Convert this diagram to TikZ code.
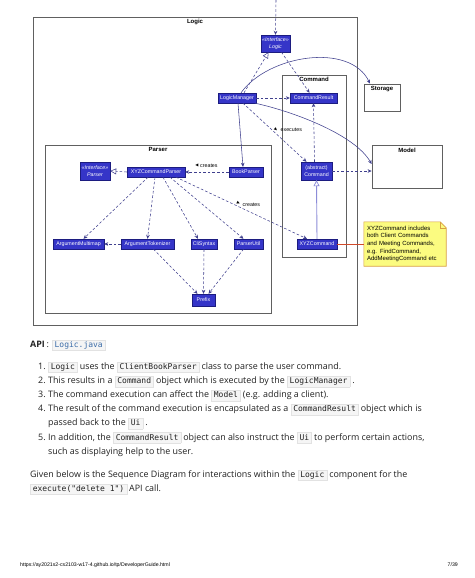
\documentclass[tikz,border=0pt]{standalone}
\usepackage{fontspec}
\setmainfont{Open Sans}
\newfontfamily\dsans{Liberation Sans}
\newfontfamily\mono{DejaVu Sans Mono}
\newfontfamily\dejavu{DejaVu Sans}
\usetikzlibrary{arrows.meta}
\definecolor{clsfill}{HTML}{3535C8}
\definecolor{clsline}{HTML}{1C1C80}
\definecolor{edgec}{HTML}{40408E}
\definecolor{inhc}{HTML}{8C8CD8}
\definecolor{framec}{HTML}{606060}
\definecolor{notefill}{HTML}{FBFB80}
\definecolor{noteline}{HTML}{D9A040}
\definecolor{notelink}{HTML}{D04A2A}
\definecolor{cdbg}{HTML}{F5F5F5}
\definecolor{cdline}{HTML}{E2E2E2}
\definecolor{cdblue}{HTML}{3B6CA8}
\definecolor{bodyc}{HTML}{222222}
\newcommand\cdfont{\mono\fontsize{8}{9}\selectfont}
\newcommand\cd[1]{{\setlength{\fboxsep}{0pt}\setlength{\fboxrule}{0.4pt}\fcolorbox{cdline}{cdbg}{\hspace{2.2pt}\rule[-2.9pt]{0pt}{10.4pt}{\cdfont #1}\hspace{2.2pt}}}}
\newcommand\cdb[1]{{\setlength{\fboxsep}{0pt}\setlength{\fboxrule}{0.4pt}\fcolorbox{cdline}{cdbg}{\hspace{2.2pt}\rule[-2.9pt]{0pt}{10.4pt}{\cdfont\color{cdblue}#1}\hspace{2.2pt}}}}
\pgfdeclarelayer{bg}
\pgfsetlayers{bg,main}
\begin{document}
\begin{tikzpicture}[x=1pt,y=-1pt,
  frame/.style={draw=framec, line width=0.8pt, fill=white, inner sep=0pt},
  ftitle/.style={font=\dsans\bfseries\fontsize{6}{7}\selectfont, inner sep=0pt},
  cls/.style={fill=clsfill, draw=clsline, line width=0.4pt, text=white, inner sep=0pt,
    font=\dsans\fontsize{5.3}{6.3}\selectfont, align=center},
  iface/.style={cls, font=\dsans\itshape\fontsize{5.3}{6.3}\selectfont},
  dep/.style={draw=edgec, line width=0.55pt, dash pattern=on 2.6pt off 2pt, -{Stealth[length=4pt,width=3.6pt]}},
  assoc/.style={draw=edgec, line width=0.55pt, -{Stealth[length=4pt,width=3.6pt]}},
  real/.style={draw=edgec, line width=0.55pt, dash pattern=on 2.6pt off 2pt, -{Triangle[open,length=6pt,width=6pt,line width=0.55pt]}},
  inh/.style={draw=inhc, line width=0.9pt, -{Triangle[open,length=6pt,width=6pt,fill=white,line width=0.7pt]}},
  lbl/.style={font=\dsans\fontsize{5.3}{6.3}\selectfont, inner sep=0pt, text=black},
  tri/.style={font=\dejavu\fontsize{4}{4}\selectfont, inner sep=0pt, text=black},
  body/.style={font=\fontsize{8.9}{10}\selectfont, text=bodyc, inner sep=0pt},
  foot/.style={font=\dsans\fontsize{5.2}{6}\selectfont, text=black, inner sep=0pt}
]
\useasboundingbox (0,0) rectangle (474,578);
\begin{pgfonlayer}{bg}
\fill[white] (0,0) rectangle (474,578);
\end{pgfonlayer}

% frames
\node[frame, minimum width=324, minimum height=308] (logicF) at (195,171) {};
\node[frame, minimum width=226, minimum height=168] (parserF) at (158,229) {};
\node[frame, minimum width=64, minimum height=182] (cmdF) at (314,166) {};
\node[frame, minimum width=36, minimum height=27] (storage) at (382,97.5) {};
\node[frame, minimum width=70, minimum height=43] (model) at (407,166.5) {};
\node[ftitle, anchor=north] (logicT) at ([yshift=-2.5pt]logicF.north) {Logic};
\node[ftitle, anchor=north] (parserT) at ([yshift=-2.5pt]parserF.north) {Parser};
\node[ftitle, anchor=north] (cmdT) at ([yshift=-2.5pt]cmdF.north) {Command};
\node[ftitle, anchor=north] (storT) at ([yshift=-3pt]storage.north) {Storage};
\node[ftitle, anchor=north] (modelT) at ([yshift=-3pt]model.north) {Model};

% classes
\node[iface, minimum width=29, minimum height=17] (ilogic) at (275.5,43.5) {«Interface»\\Logic};
\node[cls, minimum width=38, minimum height=10] (lm) at (237,98) {LogicManager};
\node[cls, minimum width=47, minimum height=10] (cr) at (313.5,98) {CommandResult};
\node[iface, minimum width=30, minimum height=18] (iparser) at (95,171) {«Interface»\\Parser};
\node[cls, minimum width=58, minimum height=10] (xyzp) at (156,172) {XYZCommandParser};
\node[cls, minimum width=34, minimum height=10] (bp) at (246,172) {BookParser};
\node[cls, minimum width=31, minimum height=18] (acmd) at (316.5,171) {(abstract)\\Command};
\node[cls, minimum width=40, minimum height=10] (xyzc) at (317,244) {XYZCommand};
\node[cls, minimum width=51, minimum height=10] (amm) at (78.5,244) {ArgumentMultimap};
\node[cls, minimum width=53, minimum height=10] (atok) at (147.5,244) {ArgumentTokenizer};
\node[cls, minimum width=26, minimum height=10] (cli) at (204,244) {CliSyntax};
\node[cls, minimum width=29, minimum height=10] (pu) at (248.5,244) {ParserUtil};
\node[cls, minimum width=23, minimum height=12] (prefix) at (203.5,300) {Prefix};

% note
\node[lbl, text width=80, align=left, minimum width=82, minimum height=44,
  font=\dsans\fontsize{6}{7.7}\selectfont] (note) at (405,244)
  {\hspace*{2pt}XYZCommand includes\\\hspace*{2pt}both Client Commands\\\hspace*{2pt}and Meeting Commands,\\\hspace*{2pt}e.g. FindCommand,\\\hspace*{2pt}AddMeetingCommand etc};
\begin{pgfonlayer}{bg}
\filldraw[fill=notefill, draw=noteline, line width=0.6pt]
  (note.north west) -- ([xshift=-6pt]note.north east) -- ([yshift=-6pt]note.north east)
  -- (note.south east) -- (note.south west) -- cycle;
\end{pgfonlayer}
\draw[draw=noteline, line width=0.6pt] ([xshift=-6pt]note.north east) |- ([yshift=-6pt]note.north east);

% edges
\coordinate (topin) at (276,0);
\draw[dep] (topin) -- (ilogic.north);
\draw[real] ([xshift=7pt]lm.north) -- ([xshift=-7pt]ilogic.south);
\draw[dep] ([xshift=6pt]ilogic.south) -- ([xshift=-4pt]cr.north);
\draw[dep] (lm.east) -- (cr.west);
\draw[assoc] ([xshift=4pt]lm.north) .. controls (268,55) and (350,42) .. ([xshift=-12pt]storage.north);
\draw[assoc] ([xshift=-1pt]lm.south east) .. controls (295,112) and (355,135) .. ([yshift=2.5pt]model.west);
\draw[assoc] ([xshift=1pt]lm.south) -- ([xshift=-3pt]bp.north);
\draw[dep] ([xshift=6pt]lm.south) -- ([xshift=-10pt]acmd.north);
\draw[dep] ([xshift=-2pt]acmd.north) -- (cr.south);
\draw[dep] (acmd.east) -- (acmd.east -| model.west);
\draw[inh] (xyzc.north) -- (acmd.south);
\draw[dep] (bp.west) -- (xyzp.east);
\draw[real] (xyzp.west) -- (iparser.east);
\draw[dep] ([xshift=20pt]xyzp.south) -- ([xshift=-10pt]xyzc.north);
\draw[dep] ([xshift=-8pt]xyzp.south) -- ([xshift=5pt]amm.north);
\draw[dep] ([xshift=-1pt]xyzp.south) -- (atok.north);
\draw[dep] ([xshift=7pt]xyzp.south) -- ([xshift=-6pt]cli.north);
\draw[dep] ([xshift=14pt]xyzp.south) -- ([xshift=-5pt]pu.north);
\draw[dep] (atok.west) -- (amm.east);
\draw[dep] ([xshift=6pt]atok.south) -- ([xshift=-6pt]prefix.north);
\draw[dep] (cli.south) -- (prefix.north);
\draw[dep] ([xshift=-5pt]pu.south) -- ([xshift=5pt]prefix.north);
\draw[draw=notelink, line width=0.8pt] (xyzc.east) -- (note.west);

% edge labels
\node[tri] (tr1) at (197,165.5) {◀};
\node[lbl, anchor=west] (cr1) at (200,165.5) {creates};
\node[tri, rotate=-43] (tr2) at (276,129.5) {▶};
\node[lbl, anchor=west] (ex1) at (280.5,130) {executes};
\node[tri, rotate=-26] (tr3) at (238.5,203.5) {▶};
\node[lbl, anchor=west] (cr2) at (242.5,204.5) {creates};

% text
\node[body, anchor=base west] (api) at (30,347.5) {\textbf{API}\hspace{1.8pt}:\hspace{3pt}\cdb{Logic.java}};
\node[body, anchor=base west] (n1) at (38,369.5) {1.};
\node[body, anchor=base west] (t1) at (48,369.5) {\cd{Logic} uses the \cd{ClientBookParser} class to parse the user command.};
\node[body, anchor=base west] (n2) at (38,383.6) {2.};
\node[body, anchor=base west] (t2) at (48,383.6) {This results in a \cd{Command} object which is executed by the \cd{LogicManager} .};
\node[body, anchor=base west] (n3) at (38,397.7) {3.};
\node[body, anchor=base west] (t3) at (48,397.7) {The command execution can affect the \cd{Model} (e.g. adding a client).};
\node[body, anchor=base west] (n4) at (38,411.8) {4.};
\node[body, anchor=base west] (t4) at (48,411.8) {The result of the command execution is encapsulated as a \cd{CommandResult} object which is};
\node[body, anchor=base west] (t4b) at (48,425.9) {passed back to the \cd{Ui} .};
\node[body, anchor=base west] (n5) at (38,440) {5.};
\node[body, anchor=base west] (t5) at (48,440) {In addition, the \cd{CommandResult} object can also instruct the \cd{Ui} to perform certain actions,};
\node[body, anchor=base west] (t5b) at (48,454.1) {such as displaying help to the user.};
\node[body, anchor=base west] (g1) at (30,477.5) {Given below is the Sequence Diagram for interactions within the \cd{Logic} component for the};
\node[body, anchor=base west] (g2) at (30,491.5) {\cd{execute("delete 1")} API call.};

\node[foot, anchor=base west] (url) at (20,566.5) {https://ay2021s2-cs2103-w17-4.github.io/tp/DeveloperGuide.html};
\node[foot, anchor=base east] (pg) at (458,566.5) {7/39};
\end{tikzpicture}
\end{document}
